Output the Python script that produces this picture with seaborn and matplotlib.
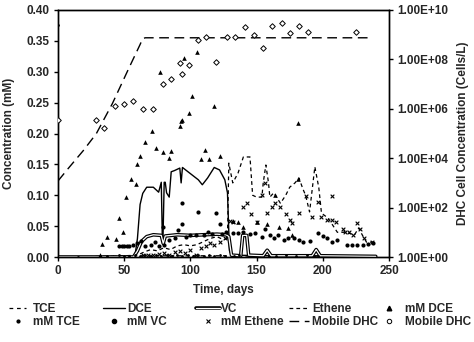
import numpy as np
import pandas as pd
import matplotlib
matplotlib.use("Agg")
import matplotlib.pyplot as plt
import seaborn as sns
from matplotlib.lines import Line2D
from matplotlib.ticker import FixedLocator, NullLocator, FuncFormatter

# ---------------- data ----------------
# model lines (mM)
tce_days = [0, 15, 30, 60, 90, 130, 160, 200, 240]
tce_mm = [0.0, 0.0, 0.001, 0.002, 0.002, 0.002, 0.001, 0.001, 0.0]

dce_days = [0, 58, 60, 62, 64, 67, 72, 76, 78, 78.8, 79.3, 80.2, 81, 82, 84, 85.5,
            88, 92, 93, 94, 100, 106, 109, 113, 118, 122, 126, 128, 129.5, 131,
            160, 200, 240]
dce_mm = [0.0, 0.0, 0.03, 0.085, 0.103, 0.113, 0.113, 0.105, 0.121, 0.03, 0.03,
          0.121, 0.121, 0.104, 0.097, 0.138, 0.14, 0.144, 0.12, 0.145, 0.135,
          0.125, 0.117, 0.128, 0.145, 0.141, 0.125, 0.104, 0.01, 0.003, 0.002,
          0.002, 0.001]

vc_days = [0, 57, 60, 63, 67, 72, 78, 79.5, 81, 90, 100, 110, 120, 127, 129,
           131, 138, 139.5, 142.5, 144, 155, 158, 161, 192, 195, 198, 240]
vc_mm = [0.0, 0.0, 0.01, 0.025, 0.033, 0.036, 0.035, 0.022, 0.034, 0.036, 0.035,
         0.036, 0.037, 0.036, 0.033, 0.003, 0.002, 0.035, 0.035, 0.003, 0.002,
         0.011, 0.002, 0.002, 0.012, 0.002, 0.001]

eth_days = [0, 30, 60, 65, 70, 75, 80, 85, 90, 95, 100, 105, 110, 115, 120, 125,
            128, 129, 132, 136, 140, 145, 147, 150, 154, 155, 157, 159, 160, 163,
            168, 172, 175, 179, 182, 185, 187, 190, 194, 197, 199, 204, 211, 217,
            224, 227, 230, 233, 239]
eth_mm = [0.0, 0.0, 0.003, 0.008, 0.012, 0.01, 0.015, 0.012, 0.018, 0.02, 0.018,
          0.02, 0.025, 0.03, 0.033, 0.028, 0.03, 0.152, 0.12, 0.136, 0.162, 0.162,
          0.1, 0.097, 0.097, 0.12, 0.149, 0.12, 0.097, 0.104, 0.087, 0.1, 0.113,
          0.12, 0.128, 0.11, 0.1, 0.073, 0.146, 0.112, 0.071, 0.063, 0.04, 0.04,
          0.036, 0.047, 0.035, 0.024, 0.024]

# mobile DHC model line (cells/L)
dhc_line_days = [0, 8, 19, 29, 41, 54, 62, 64, 66, 235]
dhc_line_cells = [1.2e3, 4.0e3, 2.0e4, 1.0e5, 1.6e6, 5.0e7, 4.0e8, 7.0e8, 7.5e8, 7.5e8]

# measured points
mtce_days = [0, 15, 32, 37, 46, 50, 54, 58, 62, 66, 70, 74, 78, 82, 86, 90, 94,
             98, 102, 106, 110, 114, 118, 122, 126, 133, 137, 165, 172, 180, 188, 196]
mtce_mm = [0.376, 0.0, 0.002, 0.001, 0.003, 0.002, 0.002, 0.003, 0.002, 0.003,
           0.002, 0.003, 0.002, 0.003, 0.002, 0.003, 0.002, 0.003, 0.002, 0.003,
           0.002, 0.003, 0.002, 0.003, 0.002, 0.002, 0.003, 0.002, 0.003, 0.002,
           0.003, 0.002]

mdce_days = [32, 33, 37, 44, 46, 49, 51, 55, 59, 60, 62, 66, 71, 74, 77, 79, 84,
             85, 92, 93, 94, 95, 99, 101, 105, 108, 111, 114, 118, 122, 132, 136,
             140, 150, 158, 164, 167, 174, 177, 181, 181]
mdce_mm = [0.003, 0.021, 0.032, 0.029, 0.063, 0.04, 0.097, 0.126, 0.118, 0.151,
           0.163, 0.187, 0.204, 0.176, 0.30, 0.17, 0.16, 0.172, 0.212, 0.22, 0.222,
           0.322, 0.233, 0.261, 0.332, 0.159, 0.173, 0.159, 0.245, 0.164, 0.058,
           0.057, 0.048, 0.057, 0.053, 0.1, 0.049, 0.047, 0.036, 0.217, 0.126]

mvc_days = [46, 48, 50, 52, 54, 57, 60, 63, 66, 70, 73, 76, 79, 80, 84, 88, 91,
            94, 94, 97, 100, 104, 106, 110, 113, 116, 119, 122, 124, 127, 132, 136,
            140, 145, 149, 154, 156, 160, 163, 166, 171, 174, 178, 182, 185, 190,
            196, 200, 203, 207, 211, 218, 222, 226, 230, 234, 238]
mvc_mm = [0.018, 0.018, 0.018, 0.018, 0.018, 0.019, 0.022, 0.026, 0.018, 0.02,
          0.024, 0.018, 0.049, 0.02, 0.028, 0.03, 0.044, 0.053, 0.087, 0.032, 0.035,
          0.036, 0.073, 0.036, 0.04, 0.038, 0.071, 0.053, 0.038, 0.04, 0.039, 0.039,
          0.04, 0.038, 0.039, 0.032, 0.045, 0.036, 0.031, 0.035, 0.027, 0.031, 0.03,
          0.028, 0.024, 0.026, 0.039, 0.034, 0.031, 0.024, 0.028, 0.019, 0.019,
          0.019, 0.019, 0.021, 0.022]

meth_days = [64, 68, 72, 76, 80, 84, 88, 92, 96, 100, 104, 108, 112, 115, 118,
             122, 126, 130, 132, 140, 143, 146, 150, 154, 156, 158, 162, 164, 168,
             172, 175, 177, 182, 187, 192, 196, 199, 203, 207, 207, 210, 215, 217,
             220, 223, 226, 228, 231, 237]
meth_mm = [0.003, 0.004, 0.003, 0.005, 0.006, 0.003, 0.008, 0.01, 0.006, 0.012,
           0.004, 0.015, 0.018, 0.022, 0.02, 0.025, 0.03, 0.058, 0.057, 0.081,
           0.087, 0.07, 0.057, 0.1, 0.12, 0.071, 0.081, 0.087, 0.081, 0.07, 0.06,
           0.055, 0.071, 0.099, 0.065, 0.089, 0.065, 0.06, 0.099, 0.06, 0.057,
           0.045, 0.04, 0.04, 0.035, 0.055, 0.045, 0.03, 0.024]

mdhc_days = [0, 29, 35, 43, 50, 57, 64, 72, 79, 85, 92, 94, 99, 106, 112, 119,
             128, 134, 141, 148, 155, 162, 169, 175, 182, 189, 225]
mdhc_cells = [3.5e5, 3.5e5, 1.6e5, 1.3e6, 1.6e6, 2.0e6, 1.0e6, 1.0e6, 1.0e7,
              1.6e7, 7.0e7, 2.5e7, 6.0e7, 6.0e8, 8.0e8, 8.0e7, 8.0e8, 8.0e8,
              2.0e9, 1.0e9, 3.0e8, 2.2e9, 3.0e9, 1.2e9, 2.2e9, 1.3e9, 1.3e9]

x_ticks = [0, 50, 100, 150, 200, 250]
y_ticks = [0.0, 0.05, 0.10, 0.15, 0.20, 0.25, 0.30, 0.35, 0.40]
y2_ticks = [1e0, 1e2, 1e4, 1e6, 1e8, 1e10]

# ---------------- style ----------------
sns.set_style("ticks")
plt.rcParams["font.family"] = ["Liberation Sans", "DejaVu Sans"]
plt.rcParams["font.weight"] = "bold"
plt.rcParams["axes.labelweight"] = "bold"

W, H = 474, 342
fig = plt.figure(figsize=(W / 100, H / 100), dpi=100)
L, R, T, B = 58, 389, 10, 257
ax = fig.add_axes([L / W, 1 - B / H, (R - L) / W, (B - T) / H])
ax2 = ax.twinx()
ax2.set_yscale("log")

K = "black"


def line(axis, x, y, lw=1.0, dashes=None, color=K, z=2):
    before = len(axis.lines)
    sns.lineplot(x=x, y=y, ax=axis, color=color, lw=lw, sort=False,
                 estimator=None, legend=False, zorder=z)
    ln = axis.lines[before]
    if dashes is not None:
        ln.set_dashes(dashes)
    return ln


line(ax, tce_days, tce_mm, lw=0.9, dashes=(3, 3))
line(ax, dce_days, dce_mm, lw=1.0)
line(ax, vc_days, vc_mm, lw=2.6, z=3)
line(ax, vc_days, vc_mm, lw=0.9, color="white", z=3.1)
line(ax, eth_days, eth_mm, lw=0.9, dashes=(3, 2.5))

sns.scatterplot(x=mtce_days, y=mtce_mm, ax=ax, marker="o", s=4, color=K,
                edgecolor=K, linewidth=0, legend=False, zorder=4)
sns.scatterplot(x=mvc_days, y=mvc_mm, ax=ax, marker="o", s=9, color=K,
                edgecolor=K, linewidth=0, legend=False, zorder=4)
sns.scatterplot(x=mdce_days, y=mdce_mm, ax=ax, marker="^", s=11, color=K,
                edgecolor=K, linewidth=0, legend=False, zorder=4)
sns.scatterplot(x=meth_days, y=meth_mm, ax=ax, marker="x", s=7, color=K,
                linewidth=0.8, legend=False, zorder=4)

line(ax2, dhc_line_days, dhc_line_cells, lw=1.0, dashes=(7, 4))
sns.scatterplot(x=mdhc_days, y=mdhc_cells, ax=ax2, marker="D", s=8,
                facecolor="white", edgecolor=K, linewidth=0.7, legend=False,
                zorder=4)

# ---------------- axes ----------------
FS = 8.5
ax.set_xlim(0, 250)
ax.set_ylim(0, 0.40)
ax.xaxis.set_major_locator(FixedLocator(x_ticks))
ax.yaxis.set_major_locator(FixedLocator(y_ticks))
ax.yaxis.set_major_formatter(FuncFormatter(lambda v, p: f"{v:.2f}"))
ax2.set_ylim(1, 1e10)
ax2.yaxis.set_major_locator(FixedLocator(y2_ticks))
ax2.yaxis.set_minor_locator(NullLocator())
ax2.yaxis.set_major_formatter(FuncFormatter(lambda v, p: f"{v:.2E}"))

for a in (ax, ax2):
    a.tick_params(direction="out", length=3, width=1, labelsize=FS, color=K,
                  pad=3)
    for s in a.spines.values():
        s.set_color(K)
        s.set_linewidth(1.0)
    a.set_facecolor("none")

ax.set_xlabel("Time, days", fontsize=FS, fontweight="bold", labelpad=5)
ax.set_ylabel("Concentration (mM)", fontsize=FS, fontweight="bold", labelpad=8)
ax2.set_ylabel("DHC Cell Concentration (Cells/L)", fontsize=FS,
               fontweight="bold", labelpad=6)

# ---------------- legend (5 columns x 2 rows) ----------------
h_tce = Line2D([], [], color=K, lw=0.9, dashes=(3, 3))
h_dce = Line2D([], [], color=K, lw=1.0)
h_vc = (Line2D([], [], color=K, lw=2.6), Line2D([], [], color="white", lw=0.9))
h_eth = Line2D([], [], color=K, lw=0.9, dashes=(3, 2.5))
h_dhcl = Line2D([], [], color=K, lw=1.0, dashes=(7, 4))
h_mtce = Line2D([], [], color=K, ls="none", marker="o", ms=2)
h_mvc = Line2D([], [], color=K, ls="none", marker="o", ms=3)
h_mdce = Line2D([], [], color=K, ls="none", marker="^", ms=3.3)
h_meth = Line2D([], [], color=K, ls="none", marker="x", ms=2.8, mew=0.8)
h_mdhc = Line2D([], [], color=K, ls="none", marker="o", ms=3.2, mfc="white",
                mew=0.7)

cols = [
    (9, [h_tce, h_mtce], ["TCE", "mM TCE"], 1.45, 0.55),
    (103, [h_dce, h_mvc], ["DCE", "mM VC"], 1.9, 0.15),
    (196, [h_vc, h_meth], ["VC", "mM Ethene"], 2.0, 0.1),
    (289, [h_eth, h_dhcl], ["Ethene", "Mobile DHC"], 1.7, 0.25),
    (380, [h_mdce, h_mdhc], ["mM DCE", "Mobile DHC"], 1.5, 0.65),
]
for x0, hs, ls, hl, hp in cols:
    fig.legend(hs, ls, loc="upper left", bbox_to_anchor=(x0 / W, 1 - 303 / H),
               frameon=False, borderpad=0, borderaxespad=0, handlelength=hl,
               handletextpad=hp, labelspacing=0.1,
               prop={"size": FS, "weight": "bold"})

fig.savefig("out.png", dpi=100, facecolor="white")
